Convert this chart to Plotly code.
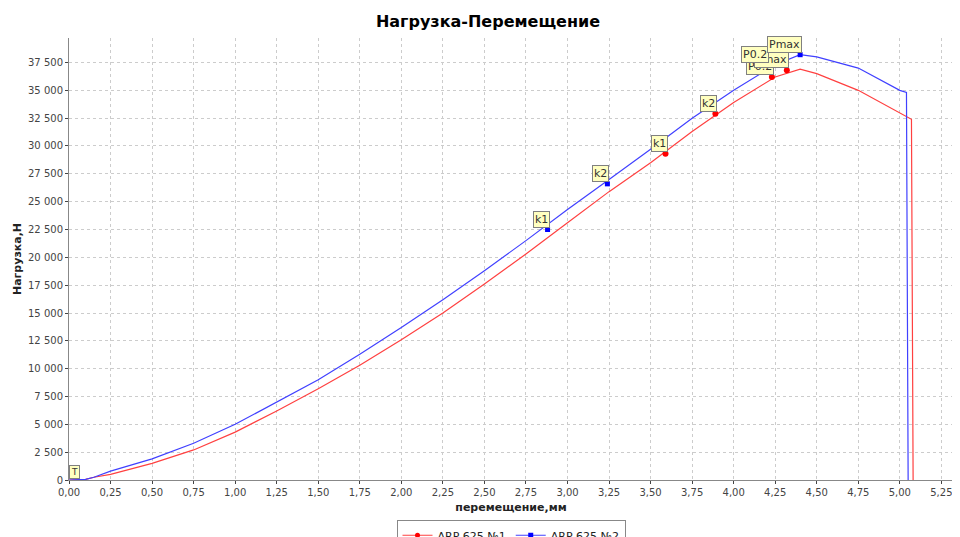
import plotly.graph_objects as go

x1 = [0, 0.05, 0.1, 0.15, 0.25, 0.5, 0.75, 1.0, 1.25, 1.5, 1.75, 2.0, 2.25, 2.5, 2.75, 3.0, 3.25, 3.5, 3.75, 4.0, 4.25, 4.4, 4.5, 4.75, 5.0, 5.07, 5.08]
y1 = [0, 20, 60, 250, 500, 1500, 2700, 4300, 6200, 8200, 10300, 12600, 15000, 17600, 20300, 23100, 25900, 28500, 31300, 33900, 36200, 36900, 36500, 35000, 33000, 32400, 0]
x2 = [0, 0.05, 0.1, 0.15, 0.25, 0.5, 0.75, 1.0, 1.25, 1.5, 1.75, 2.0, 2.25, 2.5, 2.75, 3.0, 3.25, 3.5, 3.75, 4.0, 4.25, 4.4, 4.5, 4.75, 5.0, 5.04, 5.05]
y2 = [0, 20, 60, 250, 800, 1900, 3300, 5000, 7000, 9000, 11300, 13700, 16200, 18800, 21500, 24300, 27000, 29700, 32500, 35000, 37300, 38200, 38000, 37000, 35000, 34800, 0]

m1x = [3.59, 3.89, 4.23, 4.32]; m1y = [29300, 32900, 36200, 36800]; m1t = ["k1", "k2", "P0.2", "Pmax"]
m2x = [2.88, 3.24, 4.20, 4.40]; m2y = [22500, 26600, 37300, 38200]; m2t = ["k1", "k2", "P0.2", "Pmax"]

fig = go.Figure()
fig.add_trace(go.Scatter(x=x1, y=y1, mode="lines", line=dict(color="#ff4040", width=1.2), showlegend=False))
fig.add_trace(go.Scatter(x=x2, y=y2, mode="lines", line=dict(color="#4040ff", width=1.2), showlegend=False))
fig.add_trace(go.Scatter(x=m1x, y=m1y, mode="markers", marker=dict(color="red", size=6), showlegend=False))
fig.add_trace(go.Scatter(x=m2x, y=m2y, mode="markers", marker=dict(color="blue", size=5, symbol="square"), showlegend=False))
fig.add_trace(go.Scatter(x=[None], y=[None], mode="lines+markers", line=dict(color="#ff4040", width=1.2),
                         marker=dict(color="red", size=5), name="ARP 625 №1"))
fig.add_trace(go.Scatter(x=[None], y=[None], mode="lines+markers", line=dict(color="#4040ff", width=1.2),
                         marker=dict(color="blue", size=5, symbol="square"), name="ARP 625 №2"))

for xs, ys, ts in [(m1x, m1y, m1t), (m2x, m2y, m2t)]:
    for x, y, t in zip(xs, ys, ts):
        fig.add_annotation(x=x, y=y, text=t, showarrow=False, xanchor="right", yanchor="bottom", xshift=2, yshift=2,
                           bgcolor="#ffffc0", bordercolor="#808080", borderwidth=1, borderpad=1,
                           font=dict(size=11, color="#333"))
fig.add_annotation(x=0, y=0, text="T", showarrow=False, xanchor="left", yanchor="bottom", yshift=1,
                   bgcolor="#ffffc0", bordercolor="#808080", borderwidth=1, borderpad=1, font=dict(size=9, color="#333"))

fig.update_layout(
    width=960, height=537, separators=", ",
    paper_bgcolor="white", plot_bgcolor="white",
    margin=dict(l=61, r=15, t=30, b=65, autoexpand=False),
    title=dict(text="<b>Нагрузка-Перемещение</b>", x=0.5, y=0.985, font=dict(size=16, color="black", family="DejaVu Sans")),
    font=dict(family="DejaVu Sans", size=10, color="#444"),
    legend=dict(orientation="h", x=0.5, xanchor="center", y=-0.125, yanchor="middle",
                bordercolor="#888", borderwidth=1, font=dict(size=11, color="#222"), itemwidth=30),
    xaxis=dict(range=[0, 5.32], tick0=0, dtick=0.25, tickformat=".2f", showgrid=True, gridcolor="#cccccc", griddash="dot",
               zeroline=False, showline=True, linecolor="#888", ticks="outside", ticklen=3,
               title=dict(text="<b>перемещение,мм</b>", font=dict(size=11, color="#222"), standoff=6)),
    yaxis=dict(range=[0, 39700], tick0=0, dtick=2500, tickformat=",d", showgrid=True, gridcolor="#cccccc", griddash="dot",
               zeroline=False, showline=True, linecolor="#888", ticks="outside", ticklen=3,
               title=dict(text="<b>Нагрузка,Н</b>", font=dict(size=11, color="#222"), standoff=4)),
)
fig.write_html("out.html")
